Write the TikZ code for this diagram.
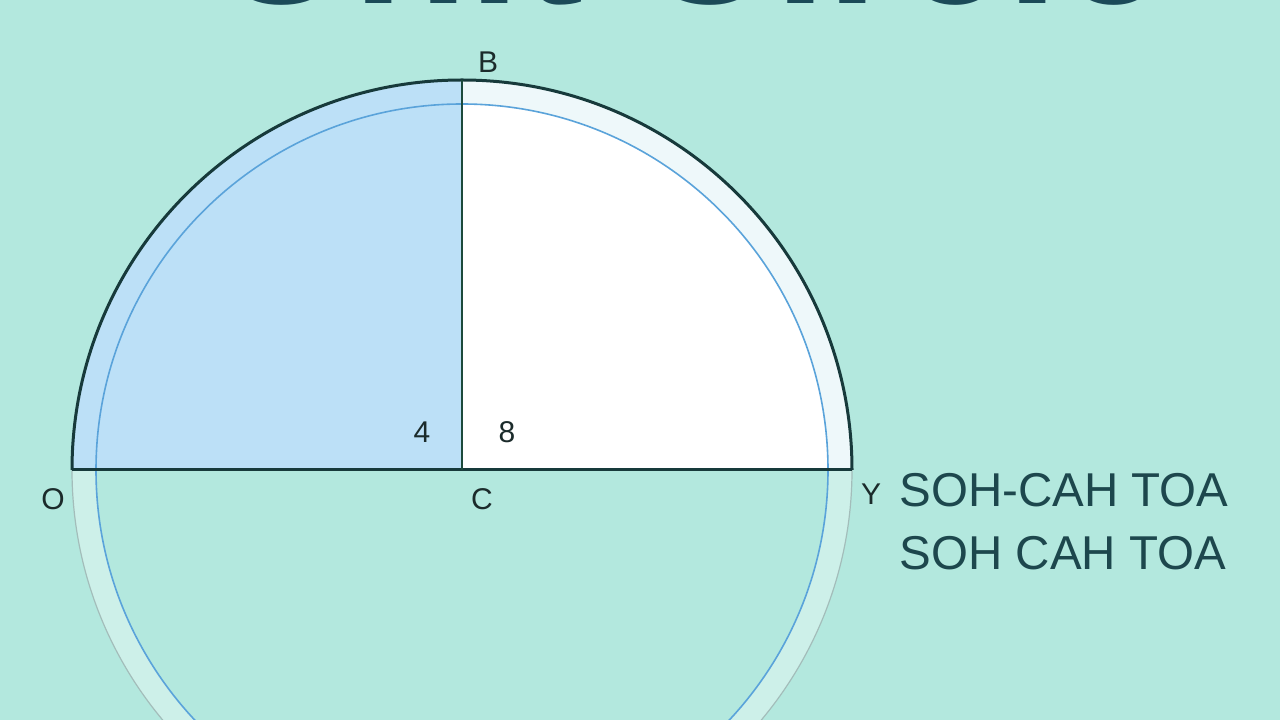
\documentclass[tikz,border=0pt]{standalone}
\usepackage{fontspec}
\setmainfont{Liberation Sans}
\definecolor{bg}{HTML}{B3E8DE}
\definecolor{qblue}{HTML}{BCE0F7}
\definecolor{bandw}{HTML}{EEF8FA}
\definecolor{darkline}{HTML}{173A3B}
\definecolor{darkgreen}{HTML}{1C4A3C}
\definecolor{blueline}{HTML}{5AA3DA}
\definecolor{ringedge}{HTML}{A3BDBA}
\definecolor{titlecol}{HTML}{1B4A58}
\definecolor{labcol}{HTML}{1B2B2B}
\definecolor{soh}{HTML}{1D474D}
\tikzset{
  lab/.style={inner sep=0pt, anchor=base, text=labcol, font=\fontsize{30}{31}\selectfont},
  sohtext/.style={inner sep=0pt, anchor=base, text=soh, font=\fontsize{47.5}{50}\selectfont},
  titletext/.style={inner sep=0pt, anchor=base, text=titlecol, font=\bfseries\fontsize{190}{200}\selectfont},
  darkstroke/.style={draw=darkline, line width=3pt},
}
\begin{document}
\begin{tikzpicture}[x=1pt,y=1pt]
\useasboundingbox (0,0) rectangle (1280,720);
\fill[bg] (0,0) rectangle (1280,720);
\begin{scope}
  \clip (0,0) rectangle (1280,720);
  \node[titletext] (title) at (690,716) {Unit Circle};

  \coordinate (C) at (462,250);
  \coordinate (O) at (72,250);
  \coordinate (Y) at (852,250);
  \coordinate (B) at (462,640);

  % upper-left blue quarter
  \fill[qblue] (C) -- (O) arc[start angle=180, end angle=90, radius=390] -- cycle;
  % upper-right white quarter
  \fill[white] (C) -- (Y) arc[start angle=0, end angle=90, radius=390] -- cycle;
  \fill[bandw] (Y) arc[start angle=0, end angle=90, radius=390] -- (462,616) arc[start angle=90, end angle=0, radius=366] -- cycle;
  % lower translucent ring
  \fill[white, opacity=0.35] (O) arc[start angle=180, end angle=360, radius=390] -- (828,250) arc[start angle=0, end angle=-180, radius=366] -- cycle;
  \draw[ringedge, line width=1.2pt] (O) arc[start angle=180, end angle=360, radius=390];
  % inner blue circle
  \draw[blueline, line width=1.6pt] (C) circle[radius=366];
  % outer dark arc
  \draw[darkstroke] (O) arc[start angle=180, end angle=0, radius=390];
  % diameter and radius
  \draw[darkstroke] (O) -- (Y);
  \draw[draw=darkgreen, line width=2.8pt] (C) -- (B);
\end{scope}

\node[lab] (lB) at (488,647) {B};
\node[lab] (lO) at (53,210) {O};
\node[lab] (lC) at (482,210) {C};
\node[lab] (lY) at (871,215) {Y};
\node[lab] (l4) at (422,277) {4};
\node[lab] (l8) at (507,277) {8};

\node[sohtext] (s1) at (1064,213) {SOH-CAH TOA};
\node[sohtext] (s2) at (1063,150) {SOH CAH TOA};
\end{tikzpicture}
\end{document}
